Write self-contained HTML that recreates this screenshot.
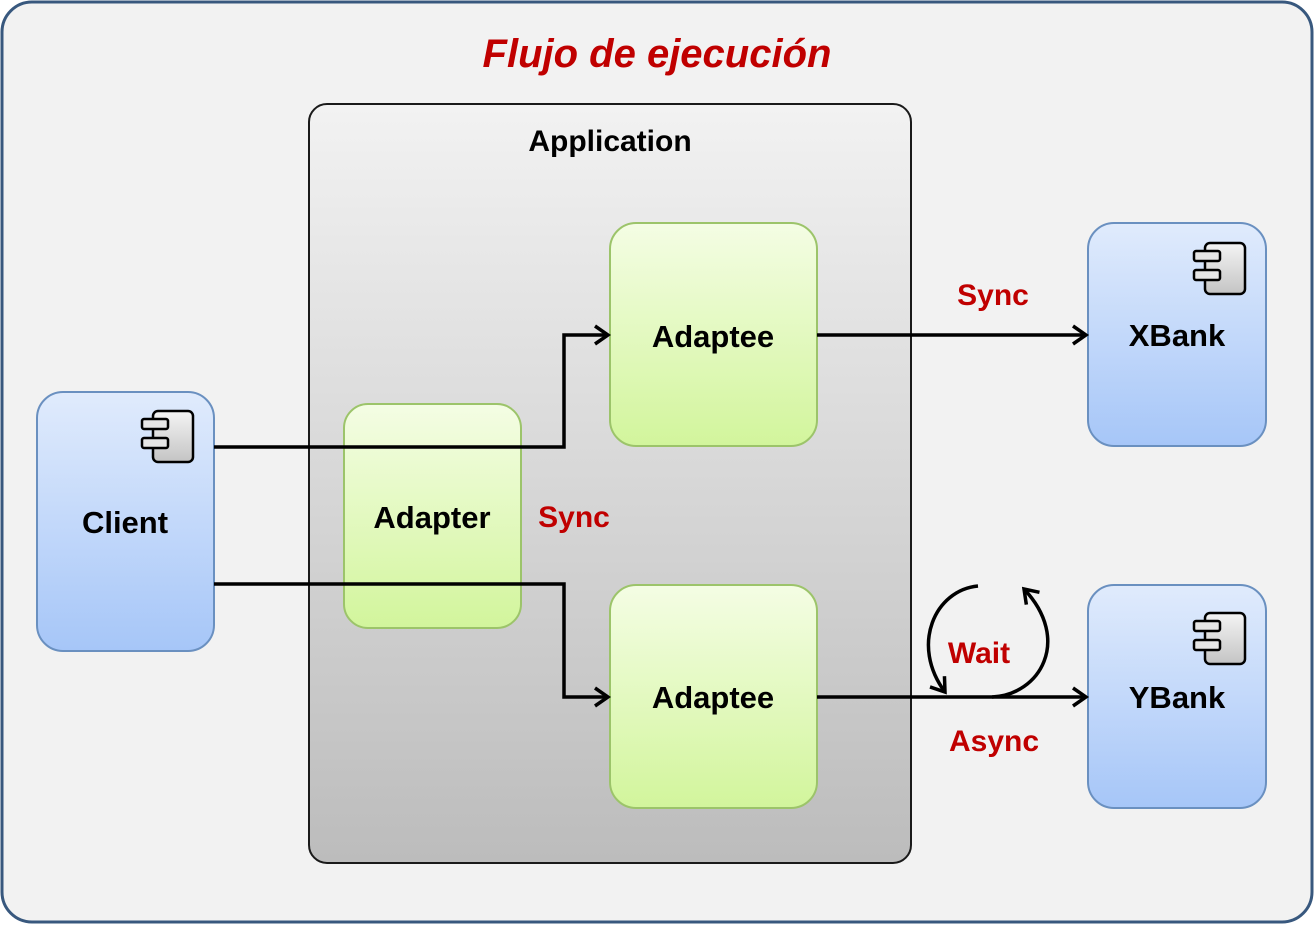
<!DOCTYPE html>
<html><head><meta charset="utf-8"><style>html,body{margin:0;padding:0;background:#fff}svg{display:block}text{font-family:"Liberation Sans",sans-serif;font-weight:bold}</style></head><body>
<svg width="1315" height="925" viewBox="0 0 1315 925" xmlns="http://www.w3.org/2000/svg">
<defs>
<linearGradient id="gApp" x1="0" y1="0" x2="0" y2="1"><stop offset="0" stop-color="#f2f2f2"/><stop offset="1" stop-color="#bcbcbc"/></linearGradient>
<linearGradient id="gBlue" x1="0" y1="0" x2="0" y2="1"><stop offset="0" stop-color="#e0ebfc"/><stop offset="1" stop-color="#a6c6f8"/></linearGradient>
<linearGradient id="gGreen" x1="0" y1="0" x2="0" y2="1"><stop offset="0" stop-color="#f4fde4"/><stop offset="1" stop-color="#d2f59c"/></linearGradient>
<linearGradient id="gIcon" x1="0" y1="0" x2="0" y2="1"><stop offset="0" stop-color="#f4f4f4"/><stop offset="1" stop-color="#c4c4c4"/></linearGradient>
<marker id="ar" markerWidth="20" markerHeight="24" refX="17" refY="12" orient="auto" markerUnits="userSpaceOnUse"><path d="M4,3 L17,12 L4,21" fill="none" stroke="#000" stroke-width="3.5"/></marker>
<g id="icon"><rect x="11" y="0" width="40" height="51" rx="5" fill="url(#gIcon)" stroke="#000" stroke-width="2.5"/><rect x="0" y="8" width="26" height="10" rx="2" fill="#e6e6e6" stroke="#000" stroke-width="2.5"/><rect x="0" y="27" width="26" height="10" rx="2" fill="#e6e6e6" stroke="#000" stroke-width="2.5"/></g>
</defs>
<rect x="2" y="2" width="1310" height="920" rx="30" fill="#f2f2f2" stroke="#38587e" stroke-width="3"/>
<text x="657" y="67" text-anchor="middle" font-size="40" font-style="italic" fill="#c00000">Flujo de ejecución</text>
<rect x="309" y="104" width="602" height="759" rx="18" fill="url(#gApp)" stroke="#1a1a1a" stroke-width="2"/>
<text x="610" y="151" text-anchor="middle" font-size="30" fill="#000">Application</text>
<rect x="37" y="392" width="177" height="259" rx="26" fill="url(#gBlue)" stroke="#6a90c0" stroke-width="2"/>
<text x="125" y="533" text-anchor="middle" font-size="31" fill="#000">Client</text>
<use href="#icon" x="142" y="411"/>
<rect x="1088" y="223" width="178" height="223" rx="26" fill="url(#gBlue)" stroke="#6a90c0" stroke-width="2"/>
<text x="1177" y="346" text-anchor="middle" font-size="31" fill="#000">XBank</text>
<use href="#icon" x="1194" y="243"/>
<rect x="1088" y="585" width="178" height="223" rx="26" fill="url(#gBlue)" stroke="#6a90c0" stroke-width="2"/>
<text x="1177" y="708" text-anchor="middle" font-size="31" fill="#000">YBank</text>
<use href="#icon" x="1194" y="613"/>
<rect x="344" y="404" width="177" height="224" rx="24" fill="url(#gGreen)" stroke="#9cc46a" stroke-width="2"/>
<text x="432" y="528" text-anchor="middle" font-size="31" fill="#000">Adapter</text>
<rect x="610" y="223" width="207" height="223" rx="26" fill="url(#gGreen)" stroke="#9cc46a" stroke-width="2"/>
<text x="713" y="347" text-anchor="middle" font-size="31" fill="#000">Adaptee</text>
<rect x="610" y="585" width="207" height="223" rx="26" fill="url(#gGreen)" stroke="#9cc46a" stroke-width="2"/>
<text x="713" y="708" text-anchor="middle" font-size="31" fill="#000">Adaptee</text>
<g fill="none" stroke="#000" stroke-width="3.5">
<path d="M214,447 H564 V335 H608" marker-end="url(#ar)"/>
<path d="M214,584 H564 V697 H608" marker-end="url(#ar)"/>
<path d="M817,335 H1086" marker-end="url(#ar)"/>
<path d="M817,697 H1086" marker-end="url(#ar)"/>
<path d="M978,586 C935,590 910,645 945,692" marker-end="url(#ar)"/>
<path d="M992,697 C1040,695 1072,640 1024,589" marker-end="url(#ar)"/>
</g>
<text x="993" y="305" text-anchor="middle" font-size="30" fill="#c00000">Sync</text>
<text x="574" y="527" text-anchor="middle" font-size="30" fill="#c00000">Sync</text>
<text x="979" y="663" text-anchor="middle" font-size="30" fill="#c00000">Wait</text>
<text x="994" y="751" text-anchor="middle" font-size="30" fill="#c00000">Async</text>
</svg>
</body></html>
